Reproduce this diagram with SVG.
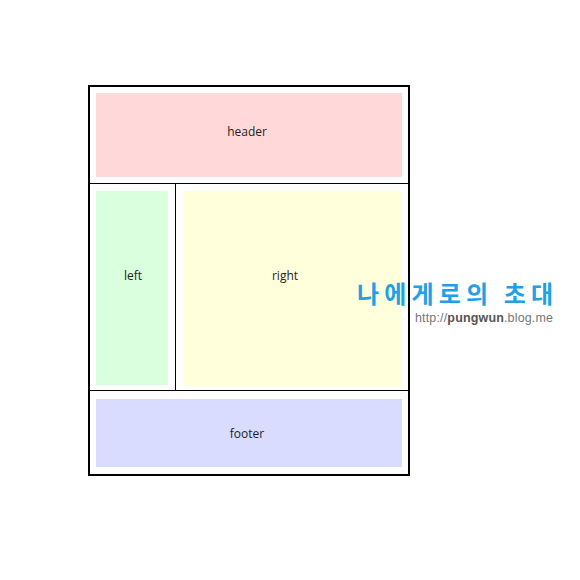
<svg xmlns="http://www.w3.org/2000/svg" width="580" height="580" viewBox="0 0 580 580">
<style>
.lbl{font-family:"Open Sans","Noto Sans","DejaVu Sans",sans-serif;font-size:12px;fill:#222;text-anchor:middle}
.ln{stroke:#000;stroke-width:1;fill:none}
</style>
<rect width="580" height="580" fill="#fff"/>
<g id="header"><rect x="96" y="93" width="306" height="84" fill="#ffd9d9"/><text class="lbl" x="247" y="136">header</text></g>
<g id="left"><rect x="96" y="191" width="72" height="194" fill="#d9ffdf"/><text class="lbl" x="133" y="280">left</text></g>
<g id="right"><rect x="184" y="191" width="218" height="195" fill="#ffffdc"/><text class="lbl" x="285" y="280">right</text></g>
<g id="footer"><rect x="96" y="399" width="306" height="68" fill="#d9dcff"/><text class="lbl" x="247" y="438">footer</text></g>
<g id="connectors">
<rect x="89" y="86" width="320" height="389" fill="none" stroke="#000" stroke-width="2"/>
<line class="ln" x1="89" y1="183.5" x2="409" y2="183.5"/>
<line class="ln" x1="175.5" y1="183.5" x2="175.5" y2="390.5"/>
<line class="ln" x1="89" y1="390.5" x2="409" y2="390.5"/>
</g>
<g id="logo">
<text x="357" y="303" font-family="'Noto Sans CJK KR',sans-serif" font-size="24" font-weight="bold" fill="#22a0e6" textLength="196" lengthAdjust="spacing">나에게로의 초대</text>
<text x="415" y="322" font-family="'Liberation Sans',Arial,sans-serif" font-size="12.5" fill="#777" textLength="138" lengthAdjust="spacing">http://<tspan font-weight="bold" fill="#555">pungwun</tspan>.blog.me</text>
</g>
</svg>
